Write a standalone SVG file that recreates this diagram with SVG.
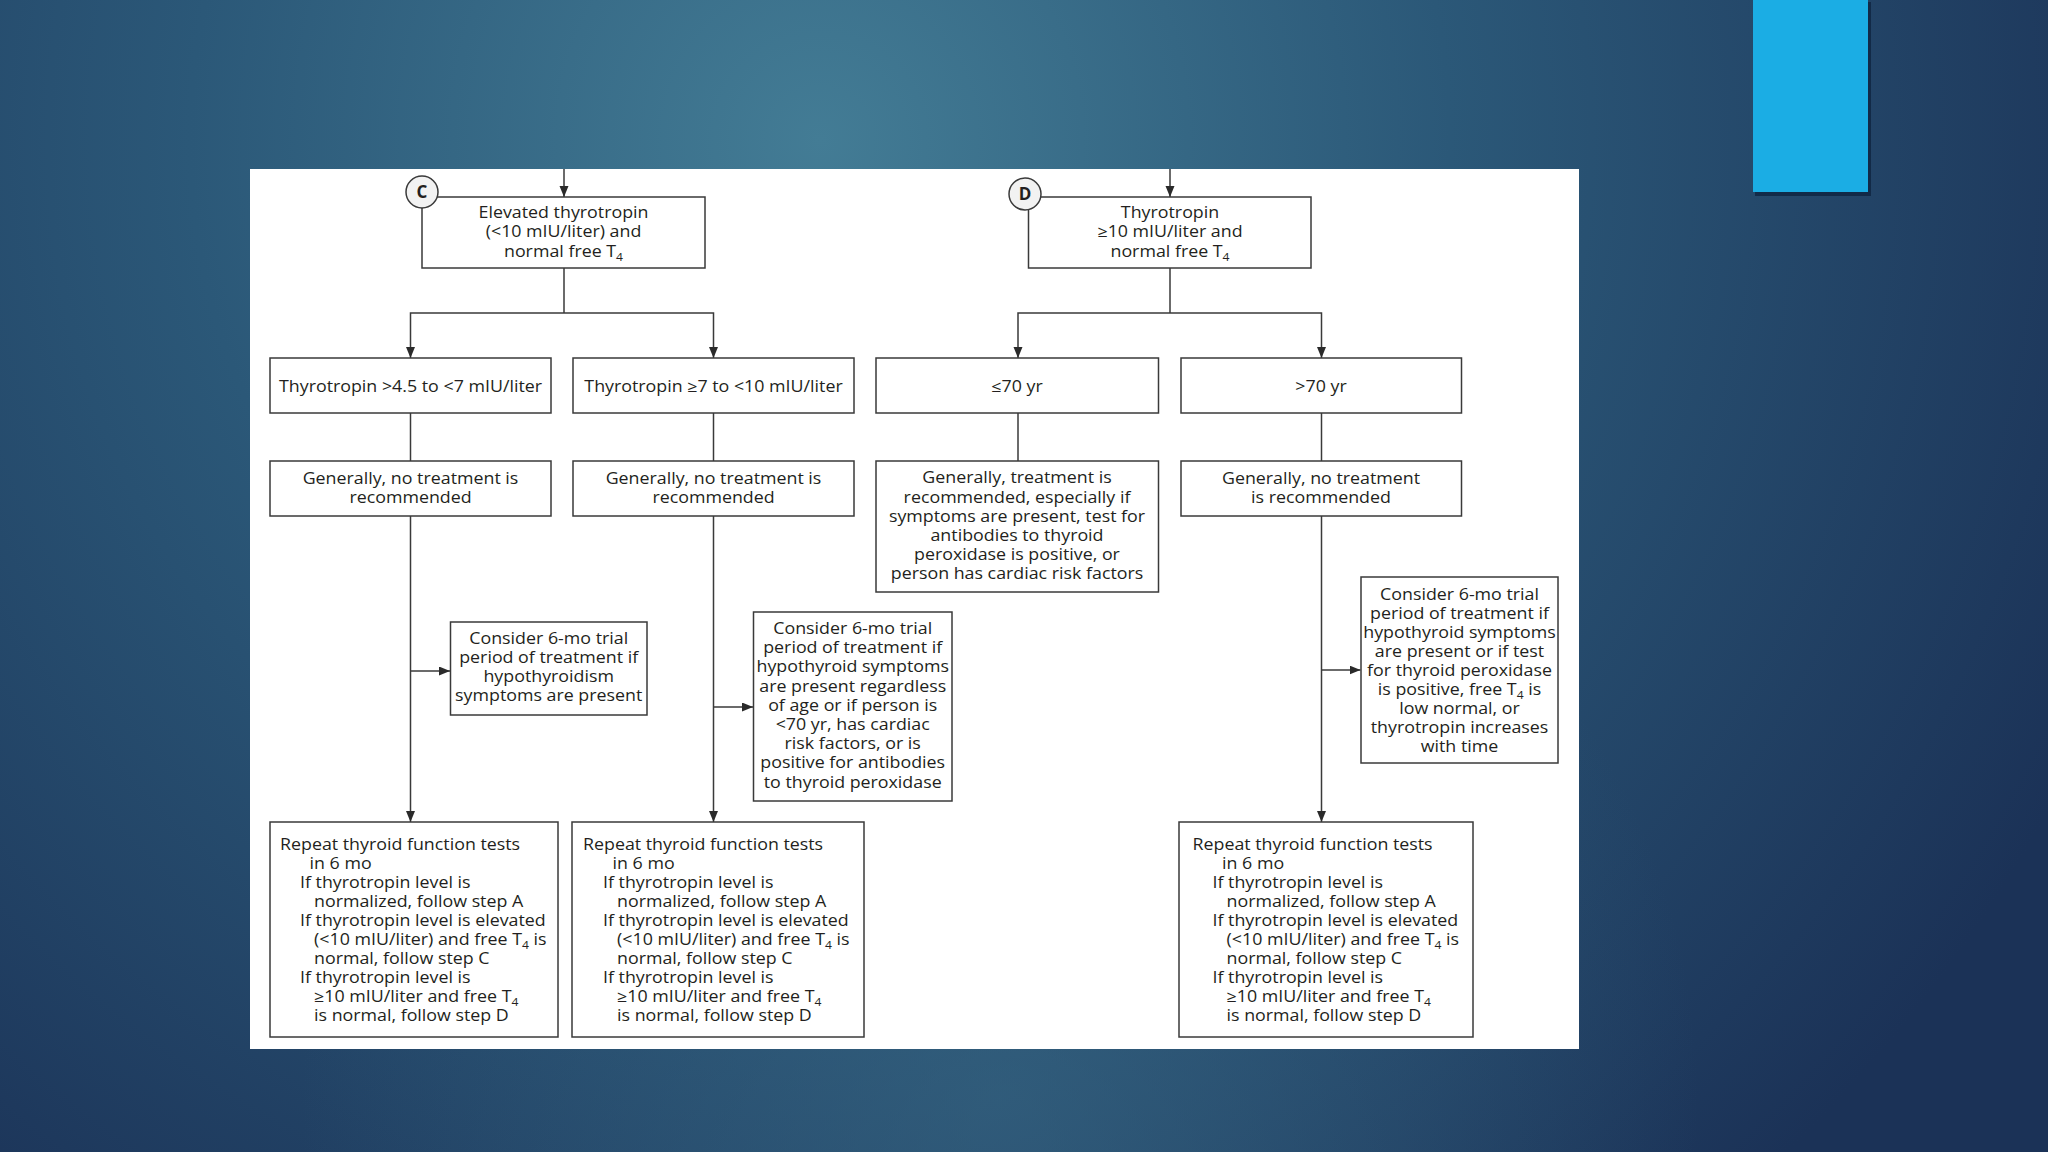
<svg xmlns="http://www.w3.org/2000/svg" width="2048" height="1152" viewBox="0 0 2048 1152">
<defs>
<radialGradient id="bg" cx="820" cy="140" r="1400" gradientUnits="userSpaceOnUse">
<stop offset="0" stop-color="#437c95"/>
<stop offset="0.45" stop-color="#2b5878"/>
<stop offset="1" stop-color="#1b3257"/>
</radialGradient>
<radialGradient id="bg2" cx="1000" cy="1100" r="700" gradientUnits="userSpaceOnUse">
<stop offset="0" stop-color="#3a6c88" stop-opacity="0.55"/>
<stop offset="1" stop-color="#3a6c88" stop-opacity="0"/>
</radialGradient>
<marker id="ah" markerUnits="userSpaceOnUse" markerWidth="12" markerHeight="10" refX="11" refY="4.5" orient="auto">
<path d="M0,0 L11,4.5 L0,9 z" fill="#2a2a2a"/>
</marker>
<style>
.box{fill:#fff;stroke:#3a3a3a;stroke-width:1.5}
.ln{fill:none;stroke:#3a3a3a;stroke-width:1.5}
.ar{fill:none;stroke:#3a3a3a;stroke-width:1.5;marker-end:url(#ah)}
.t{font-family:"Open Sans","Liberation Sans",sans-serif;font-size:15.5px;fill:#231f20}
.c{text-anchor:middle}
.sub{font-size:10.5px}
.lbl{font-family:"Open Sans","Liberation Sans",sans-serif;font-size:17px;font-weight:bold;fill:#231f20;text-anchor:middle}
.circ{fill:#f2f2f2;stroke:#3a3a3a;stroke-width:1.5}
</style>
</defs>
<rect x="0" y="0" width="2048" height="1152" fill="url(#bg)"/>
<rect x="0" y="0" width="2048" height="1152" fill="url(#bg2)"/>
<rect x="1755" y="2" width="116" height="194" fill="#0b1f3a" opacity="0.7"/>
<rect x="1753" y="0" width="115" height="192" fill="#1badE4"/>
<rect x="250" y="169" width="1329" height="880" fill="#ffffff"/>

<g id="connectors">
<line class="ar" x1="564" y1="169" x2="564" y2="197"/>
<line class="ar" x1="1170" y1="169" x2="1170" y2="197"/>
<polyline class="ln" points="564,268 564,313"/>
<polyline class="ar" points="564,313 410.5,313 410.5,358"/>
<polyline class="ar" points="564,313 713.5,313 713.5,358"/>
<polyline class="ln" points="1170,268 1170,313"/>
<polyline class="ar" points="1170,313 1018,313 1018,358"/>
<polyline class="ar" points="1170,313 1321.5,313 1321.5,358"/>
<line class="ln" x1="410.5" y1="413" x2="410.5" y2="461"/>
<line class="ln" x1="713.5" y1="413" x2="713.5" y2="461"/>
<line class="ln" x1="1018" y1="413" x2="1018" y2="461"/>
<line class="ln" x1="1321.5" y1="413" x2="1321.5" y2="461"/>
<line class="ar" x1="410.5" y1="516" x2="410.5" y2="822"/>
<line class="ar" x1="713.5" y1="516" x2="713.5" y2="822"/>
<line class="ar" x1="1321.5" y1="516" x2="1321.5" y2="822"/>
<line class="ar" x1="410.5" y1="671" x2="450" y2="671"/>
<line class="ar" x1="713.5" y1="707" x2="753" y2="707"/>
<line class="ar" x1="1321.5" y1="670" x2="1360.5" y2="670"/>
</g>

<g id="nodeC">
<rect class="box" x="422" y="197" width="283" height="71"/>
<g transform="matrix(1.15 0 0 1 563.5 0)">
<text class="t c" x="0" y="218">Elevated thyrotropin</text>
<text class="t c" x="0" y="237.5">(&lt;10 mIU/liter) and</text>
<text class="t c" x="0" y="257">normal free T<tspan class="sub" dy="4">4</tspan></text>
</g>
<circle class="circ" cx="422" cy="192" r="16"/>
<text class="lbl" x="422" y="198">C</text>
</g>

<g id="nodeD">
<rect class="box" x="1028.5" y="197" width="282.5" height="71"/>
<g transform="matrix(1.15 0 0 1 1170 0)">
<text class="t c" x="0" y="218">Thyrotropin</text>
<text class="t c" x="0" y="237.5">≥10 mIU/liter and</text>
<text class="t c" x="0" y="257">normal free T<tspan class="sub" dy="4">4</tspan></text>
</g>
<circle class="circ" cx="1025" cy="194" r="16"/>
<text class="lbl" x="1025" y="200">D</text>
</g>

<g id="b1">
<rect class="box" x="270" y="358" width="281" height="55"/>
<g transform="matrix(1.15 0 0 1 410.5 0)"><text class="t c" x="0" y="392">Thyrotropin &gt;4.5 to &lt;7 mIU/liter</text></g>
</g>
<g id="b2">
<rect class="box" x="573" y="358" width="281" height="55"/>
<g transform="matrix(1.15 0 0 1 713.5 0)"><text class="t c" x="0" y="392">Thyrotropin ≥7 to &lt;10 mIU/liter</text></g>
</g>
<g id="b3">
<rect class="box" x="876" y="358" width="282.5" height="55"/>
<g transform="matrix(1.15 0 0 1 1017 0)"><text class="t c" x="0" y="392">≤70 yr</text></g>
</g>
<g id="b4">
<rect class="box" x="1181" y="358" width="280.5" height="55"/>
<g transform="matrix(1.15 0 0 1 1321 0)"><text class="t c" x="0" y="392">&gt;70 yr</text></g>
</g>

<g id="r1">
<rect class="box" x="270" y="461" width="281" height="55"/>
<g transform="matrix(1.15 0 0 1 410.5 0)">
<text class="t c" x="0" y="484">Generally, no treatment is</text>
<text class="t c" x="0" y="503.5">recommended</text>
</g>
</g>
<g id="r2">
<rect class="box" x="573" y="461" width="281" height="55"/>
<g transform="matrix(1.15 0 0 1 713.5 0)">
<text class="t c" x="0" y="484">Generally, no treatment is</text>
<text class="t c" x="0" y="503.5">recommended</text>
</g>
</g>
<g id="r3">
<rect class="box" x="876" y="461" width="282.5" height="131"/>
<g transform="matrix(1.15 0 0 1 1017 0)">
<text class="t c" x="0" y="483.5">Generally, treatment is</text>
<text class="t c" x="0" y="502.7">recommended, especially if</text>
<text class="t c" x="0" y="521.9">symptoms are present, test for</text>
<text class="t c" x="0" y="541.1">antibodies to thyroid</text>
<text class="t c" x="0" y="560.3">peroxidase is positive, or</text>
<text class="t c" x="0" y="579.5">person has cardiac risk factors</text>
</g>
</g>
<g id="r4">
<rect class="box" x="1181" y="461" width="280.5" height="55"/>
<g transform="matrix(1.15 0 0 1 1321 0)">
<text class="t c" x="0" y="484">Generally, no treatment</text>
<text class="t c" x="0" y="503.5">is recommended</text>
</g>
</g>

<g id="s1">
<rect class="box" x="450.5" y="622" width="196.5" height="93"/>
<g transform="matrix(1.15 0 0 1 548.7 0)">
<text class="t c" x="0" y="644">Consider 6-mo trial</text>
<text class="t c" x="0" y="663">period of treatment if</text>
<text class="t c" x="0" y="682">hypothyroidism</text>
<text class="t c" x="0" y="701">symptoms are present</text>
</g>
</g>
<g id="s2">
<rect class="box" x="753.5" y="612" width="198.5" height="189"/>
<g transform="matrix(1.15 0 0 1 852.7 0)">
<text class="t c" x="0" y="634">Consider 6-mo trial</text>
<text class="t c" x="0" y="653.2">period of treatment if</text>
<text class="t c" x="0" y="672.4">hypothyroid symptoms</text>
<text class="t c" x="0" y="691.6">are present regardless</text>
<text class="t c" x="0" y="710.8">of age or if person is</text>
<text class="t c" x="0" y="730">&lt;70 yr, has cardiac</text>
<text class="t c" x="0" y="749.2">risk factors, or is</text>
<text class="t c" x="0" y="768.4">positive for antibodies</text>
<text class="t c" x="0" y="787.6">to thyroid peroxidase</text>
</g>
</g>
<g id="s4">
<rect class="box" x="1361" y="577" width="197" height="186"/>
<g transform="matrix(1.15 0 0 1 1459.5 0)">
<text class="t c" x="0" y="600">Consider 6-mo trial</text>
<text class="t c" x="0" y="619">period of treatment if</text>
<text class="t c" x="0" y="638">hypothyroid symptoms</text>
<text class="t c" x="0" y="657">are present or if test</text>
<text class="t c" x="0" y="676">for thyroid peroxidase</text>
<text class="t c" x="0" y="695">is positive, free T<tspan class="sub" dy="4">4</tspan><tspan dy="-4"> is</tspan></text>
<text class="t c" x="0" y="714">low normal, or</text>
<text class="t c" x="0" y="733">thyrotropin increases</text>
<text class="t c" x="0" y="752">with time</text>
</g>
</g>

<g id="bb1">
<rect class="box" x="270" y="822" width="288" height="215"/>
<g transform="matrix(1.15 0 0 1 280 0)">
<text class="t" x="0" y="850">Repeat thyroid function tests</text>
<text class="t" x="25.7" y="869">in 6 mo</text>
<text class="t" x="17.4" y="888">If thyrotropin level is</text>
<text class="t" x="29.6" y="907">normalized, follow step A</text>
<text class="t" x="17.4" y="926">If thyrotropin level is elevated</text>
<text class="t" x="29.6" y="945">(&lt;10 mIU/liter) and free T<tspan class="sub" dy="4">4</tspan><tspan dy="-4"> is</tspan></text>
<text class="t" x="29.6" y="964">normal, follow step C</text>
<text class="t" x="17.4" y="983">If thyrotropin level is</text>
<text class="t" x="29.6" y="1002">≥10 mIU/liter and free T<tspan class="sub" dy="4">4</tspan></text>
<text class="t" x="29.6" y="1021">is normal, follow step D</text>
</g>
</g>
<g id="bb2">
<rect class="box" x="572" y="822" width="292" height="215"/>
<g transform="matrix(1.15 0 0 1 583 0)">
<text class="t" x="0" y="850">Repeat thyroid function tests</text>
<text class="t" x="25.7" y="869">in 6 mo</text>
<text class="t" x="17.4" y="888">If thyrotropin level is</text>
<text class="t" x="29.6" y="907">normalized, follow step A</text>
<text class="t" x="17.4" y="926">If thyrotropin level is elevated</text>
<text class="t" x="29.6" y="945">(&lt;10 mIU/liter) and free T<tspan class="sub" dy="4">4</tspan><tspan dy="-4"> is</tspan></text>
<text class="t" x="29.6" y="964">normal, follow step C</text>
<text class="t" x="17.4" y="983">If thyrotropin level is</text>
<text class="t" x="29.6" y="1002">≥10 mIU/liter and free T<tspan class="sub" dy="4">4</tspan></text>
<text class="t" x="29.6" y="1021">is normal, follow step D</text>
</g>
</g>
<g id="bb4">
<rect class="box" x="1179" y="822" width="294" height="215"/>
<g transform="matrix(1.15 0 0 1 1192.5 0)">
<text class="t" x="0" y="850">Repeat thyroid function tests</text>
<text class="t" x="25.7" y="869">in 6 mo</text>
<text class="t" x="17.4" y="888">If thyrotropin level is</text>
<text class="t" x="29.6" y="907">normalized, follow step A</text>
<text class="t" x="17.4" y="926">If thyrotropin level is elevated</text>
<text class="t" x="29.6" y="945">(&lt;10 mIU/liter) and free T<tspan class="sub" dy="4">4</tspan><tspan dy="-4"> is</tspan></text>
<text class="t" x="29.6" y="964">normal, follow step C</text>
<text class="t" x="17.4" y="983">If thyrotropin level is</text>
<text class="t" x="29.6" y="1002">≥10 mIU/liter and free T<tspan class="sub" dy="4">4</tspan></text>
<text class="t" x="29.6" y="1021">is normal, follow step D</text>
</g>
</g>
</svg>
